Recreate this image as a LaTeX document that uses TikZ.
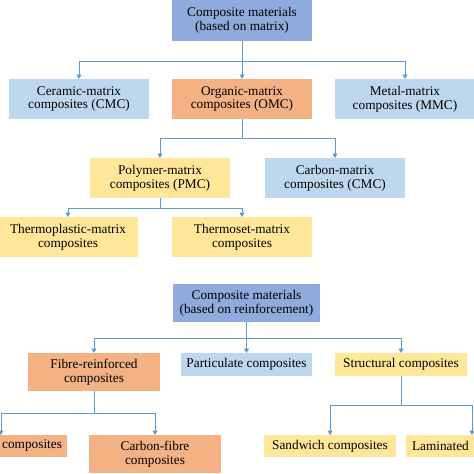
\documentclass[tikz,border=0pt]{standalone}
\usepackage{fontspec}
\setmainfont{Liberation Serif}
\usetikzlibrary{arrows.meta}
\definecolor{topblue}{HTML}{8FAADC}
\definecolor{paleblue}{HTML}{BDD7EE}
\definecolor{paleorange}{HTML}{F4B183}
\definecolor{paleyellow}{HTML}{FFE699}
\definecolor{linkblue}{HTML}{5B9BD5}
\begin{document}
\begin{tikzpicture}[
    x = 1pt,
    y = -1pt,
    >={Triangle[width=5pt,length=4.5pt]},
    box/.style = {rectangle, inner sep=0pt, outer sep=0pt, align=center,
    font=\rmfamily\fontsize{13.3}{13.6}\selectfont, text=black},
    wide/.style = {box, minimum width=140pt, minimum height=40pt},
    narrow/.style = {box, minimum width=132pt, minimum height=38pt},
    flat/.style = {box, minimum width=132pt, minimum height=23pt},
    link/.style = {draw=linkblue, line width=0.8pt},
]
\useasboundingbox (0,0) rectangle (474,474);
\clip (0,0) rectangle (474,474);

% based on matrix
\node[wide, fill=topblue, minimum height=41pt] (mat) at (242,20.5)
    {Composite materials\\(based on matrix)};
\node[wide, fill=paleblue] (cmc) at (79,99) {Ceramic-matrix\\composites (CMC)};
\node[wide, fill=paleorange] (omc) at (242,99) {Organic-matrix\\composites (OMC)};
\node[wide, fill=paleblue] (mmc) at (405,99) {Metal-matrix\\composites (MMC)};
\node[wide, fill=paleyellow] (pmc) at (160,178) {Polymer-matrix\\composites (PMC)};
\node[wide, fill=paleblue] (cbm) at (335,178) {Carbon-matrix\\composites (CMC)};
\node[wide, fill=paleyellow] (tpm) at (68,237) {Thermoplastic-matrix\\composites};
\node[wide, fill=paleyellow] (tsm) at (242,237) {Thermoset-matrix\\composites};

\coordinate (j_mat) at (242,61);
\coordinate (j_omc) at (242,138);
\coordinate (j_pmc) at (160,208);
\draw[link] (mat) -- (j_mat);
\draw[link, ->] (j_mat) -| (cmc);
\draw[link, ->] (j_mat) -- (omc);
\draw[link, ->] (j_mat) -| (mmc);
\draw[link] (omc) -- (j_omc);
\draw[link, ->] (j_omc) -| (pmc);
\draw[link, ->] (j_omc) -| (cbm);
\draw[link] (pmc) -- (j_pmc);
\draw[link, ->] (j_pmc) -| (tpm);
\draw[link, ->] (j_pmc) -| (tsm);

% based on reinforcement
\node[box, fill=topblue, minimum width=147pt, minimum height=38pt] (rein) at (246.5,303)
    {Composite materials\\(based on reinforcement)};
\node[narrow, fill=paleorange] (fib) at (94,372) {Fibre-reinforced\\composites};
\node[flat, fill=paleblue, minimum width=131pt] (part) at (246.5,364.5) {Particulate composites};
\node[flat, fill=paleyellow] (struc) at (401,364.5) {Structural composites};
\node[flat, fill=paleorange, minimum height=22pt, text width=122pt, align=right] (gfc) at (1,446)
    {composites};
\node[narrow, fill=paleorange] (cfc) at (155,454) {Carbon-fibre\\composites};
\node[flat, fill=paleyellow, minimum height=22pt] (sand) at (330,446) {Sandwich composites};
\node[flat, fill=paleyellow, minimum height=22pt, text width=120pt, align=left] (lam) at (472,446)
    {Laminated};

\coordinate (j_rein) at (246.5,338);
\coordinate (j_fib) at (94,413);
\coordinate (j_struc) at (401,405);
\draw[link] (rein) -- (j_rein);
\draw[link, ->] (j_rein) -| (fib);
\draw[link, ->] (j_rein) -- (part);
\draw[link, ->] (j_rein) -| (struc);
\draw[link] (fib) -- (j_fib);
\draw[link, ->] (j_fib) -| (gfc);
\draw[link, ->] (j_fib) -| (cfc);
\draw[link] (struc) -- (j_struc);
\draw[link, ->] (j_struc) -| (sand);
\draw[link, ->] (j_struc) -| (lam);
\end{tikzpicture}
\end{document}
